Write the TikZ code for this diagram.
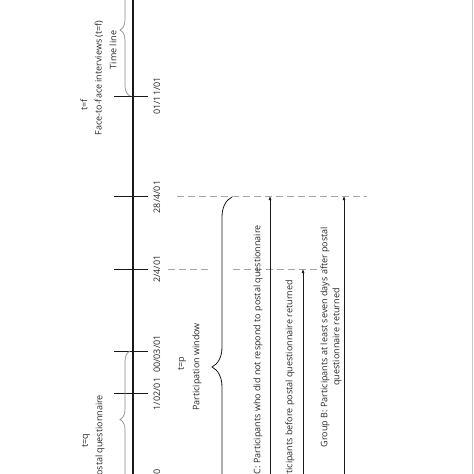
\documentclass[tikz,border=0pt]{standalone}
\usepackage{fontspec}
\setmainfont{Open Sans}
\usepackage{tikz}
\usetikzlibrary{arrows.meta,positioning,decorations.pathreplacing}
\definecolor{lineblack}{RGB}{25,25,25}
\definecolor{textgrey}{RGB}{40,40,40}
\definecolor{bracegrey}{RGB}{140,140,140}
\definecolor{dashgrey}{RGB}{165,165,165}
\definecolor{framegrey}{RGB}{200,200,200}

\begin{document}
\begin{tikzpicture}[
    x=1pt, y=-1pt,
    every node/.style={font=\fontsize{9}{12}\selectfont, text=textgrey, inner sep=0pt, align=center},
    uplabel/.style={rotate=90},
    datelabel/.style={rotate=90},
    timeline/.style={draw=lineblack, line width=1.8pt},
    tickmark/.style={draw=lineblack, line width=0.9pt},
    softbrace/.style={draw=bracegrey, line width=0.7pt, decorate, decoration={brace, amplitude=10pt}},
    bigbrace/.style={draw=lineblack, line width=0.8pt, decorate, decoration={brace, amplitude=20pt}},
    guide/.style={draw=dashgrey, line width=0.8pt, dash pattern=on 7pt off 4pt},
    arrow/.style={-{Latex[length=4pt,width=3pt]}, draw=lineblack, line width=0.7pt}
]
    \useasboundingbox (0,0) rectangle (474,474);

    % time line and its ticks
    \coordinate (top) at (133,-10);
    \coordinate (bottom) at (133,490);
    \draw[timeline] (top) -- (bottom);

    \coordinate (t1101) at (133,96);
    \coordinate (t2804) at (133,196);
    \coordinate (t0204) at (133,269);
    \coordinate (t0003) at (133,351);
    \coordinate (t0102) at (133,393);
    \coordinate (t0112) at (133,488);

    \draw[tickmark] ([xshift=-19pt]t1101) -- ([xshift=15pt]t1101);
    \draw[tickmark] ([xshift=-19pt]t2804) -- ([xshift=15pt]t2804);
    \draw[tickmark] ([xshift=-19pt]t0204) -- ([xshift=15pt]t0204);
    \draw[tickmark] ([xshift=-19pt]t0003) -- ([xshift=15pt]t0003);
    \draw[tickmark] ([xshift=-19pt]t0102) -- ([xshift=15pt]t0102);
    \draw[tickmark] ([xshift=-19pt]t0112) -- ([xshift=15pt]t0112);

    \node[datelabel] (d1101) at (157,96) {01/11/01};
    \node[datelabel] (d2804) at (157,197) {28/4/01};
    \node[datelabel] (d0204) at (157,269) {2/4/01};
    \node[datelabel] (d0003) at (157,354) {00/03/01};
    \node[datelabel] (d0102) at (157,394) {1/02/01};
    \node[datelabel] (d0112) at (157,488) {01/12/00};

    % braces
    \coordinate (tlstart) at (130,96);
    \coordinate (tlend) at (130,-36);
    \draw[softbrace] (tlstart) -- (tlend);
    \coordinate (pqstart) at (130,488);
    \coordinate (pqend) at (130,351);
    \draw[softbrace] (pqstart) -- (pqend);
    \coordinate (pwstart) at (232,537);
    \coordinate (pwend) at (232,197);
    \draw[bigbrace] (pwstart) -- (pwend);

    \node[uplabel] (tf) at (84,105) {t=f};
    \node[uplabel] (ftf) at (99,78) {Face-to-face interviews (t=f)};
    \node[uplabel] (tl) at (113,50) {Time line};
    \node[uplabel] (tq) at (86,441) {t=q};
    \node[uplabel] (pq) at (100,438) {Postal questionnaire};
    \node[uplabel] (tp) at (182,364) {t=p};
    \node[uplabel] (pw) at (197,367) {Participation window};

    % dashed guides
    \coordinate (g1a) at (177,196);
    \coordinate (g1b) at (367,196);
    \draw[guide] (g1a) -- (g1b);
    \coordinate (g2a) at (168,269);
    \coordinate (g2b) at (210,269);
    \coordinate (g2c) at (233,269);
    \coordinate (g2d) at (322,269);
    \draw[guide] (g2a) -- (g2b);
    \draw[guide] (g2c) -- (g2d);

    % groups
    \coordinate (cbase) at (270,490);
    \coordinate (ctip) at (270,196);
    \draw[arrow] (cbase) -- (ctip);
    \node[uplabel, anchor=east] (gc) at (258,225) {Group C: Participants who did not respond to postal questionnaire};

    \coordinate (abase) at (303,490);
    \coordinate (atip) at (303,269);
    \draw[arrow] (abase) -- (atip);
    \node[uplabel, anchor=east] (ga) at (290,280) {Group A: Participants before postal questionnaire returned};

    \coordinate (bbase) at (344,490);
    \coordinate (btip) at (344,196);
    \draw[arrow] (bbase) -- (btip);
    \node[uplabel] (gb) at (331,337) {Group B: Participants at least seven days after postal\\questionnaire returned};

    % frame edge
    \coordinate (fa) at (472.5,0);
    \coordinate (fb) at (472.5,474);
    \draw[framegrey, line width=0.8pt] (fa) -- (fb);
\end{tikzpicture}
\end{document}
